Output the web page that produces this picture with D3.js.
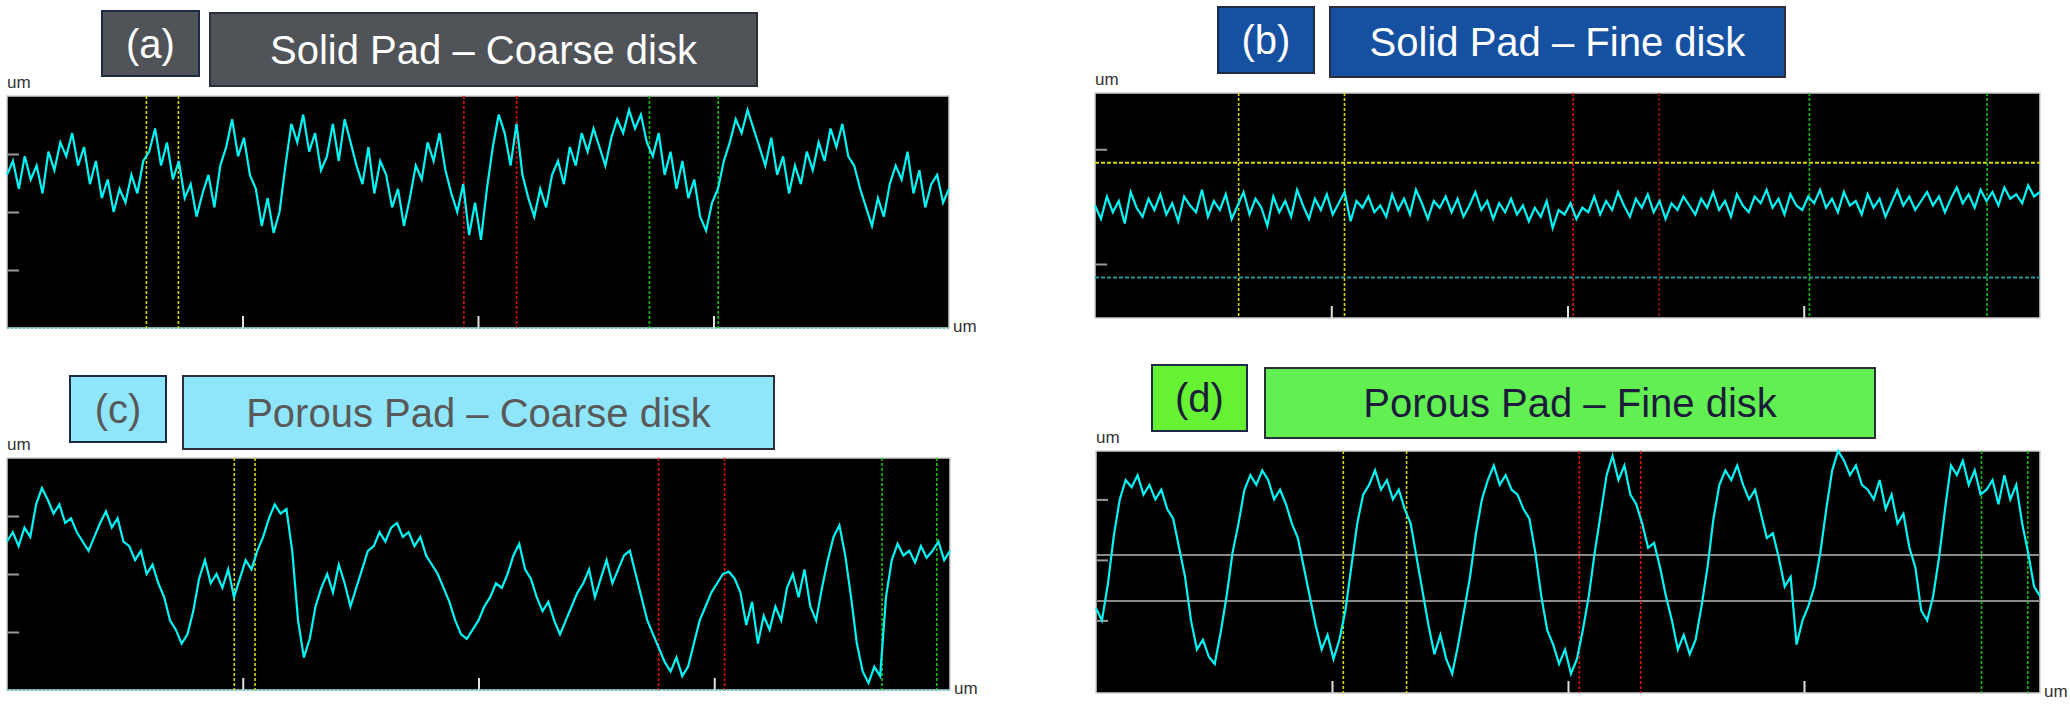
<!DOCTYPE html>
<html><head><meta charset="utf-8">
<script src="https://cdn.jsdelivr.net/npm/d3@7"></script>
<style>body{margin:0;background:#fff}svg{display:block}</style>
</head><body>
<svg id="c" width="2070" height="706"></svg>
<script>
// ---- data (heights in % of plot range, x in % of profile length) ----
const labels = ["(a)","(b)","(c)","(d)"];
const titles = ["Solid Pad \u2013 Coarse disk","Solid Pad \u2013 Fine disk","Porous Pad \u2013 Coarse disk","Porous Pad \u2013 Fine disk"];
const xTicks = [25,50,75];
const yTicksA = [25,50,75], yTicksB = [24,75], yTicksC = [25,50,75], yTicksD = [30,55,80];
const markersA = [14.8,18.2,48.5,54.1,68.2,75.5];
const markersB = [15.2,26.4,50.6,59.7,75.6,94.4];
const markersC = [24.1,26.3,69.1,76.1,92.8,98.6];
const markersD = [26.2,32.9,51.2,57.7,93.8,98.7];
const hLinesB = [69,18];
const hLinesD = [57,38];
const profileA = [66,72,60,74,64,70,58,76,68,80, 74,84,70,78,62,72,56,64,50,60, 54,66,58,72,76,86,70,80,64,72,
 56,62,48,58,66,52,70,78,90,74, 82,66,60,44,56,41,50,70,88,80, 92,76,84,68,74,88,72,90,80,70,
 62,78,58,72,66,52,60,44,56,70, 64,80,72,84,68,58,50,62,40,54, 38,60,78,92,84,70,88,66,56,48,
 60,52,66,72,62,78,70,84,76,86, 78,70,82,90,84,94,86,92,80,74, 84,66,76,60,72,56,64,48,42,54,
 60,72,80,90,84,94,86,78,70,82, 66,74,58,70,62,76,68,80,72,86, 78,88,74,70,60,52,44,56,48,62,
 70,64,76,58,68,52,62,66,54,60];
const profileB = [50,44,54,47,52,42,56,49,45,53, 48,55,46,51,43,54,50,47,57,45, 52,48,55,44,50,56,46,53,49,41,
 54,47,52,45,57,50,44,53,48,55, 46,51,56,43,52,49,54,47,50,45, 55,48,53,46,57,51,44,52,49,54,
 47,53,45,50,56,48,52,44,51,47, 53,46,50,43,49,45,52,40,48,46, 51,44,49,47,54,46,52,48,56,50,
 45,53,49,55,47,52,44,51,48,54, 50,46,53,49,56,48,52,45,55,50, 47,54,51,57,49,53,46,55,50,48,
 54,51,57,49,53,47,56,50,52,46, 55,49,53,45,51,57,50,54,48,52, 56,50,54,47,53,58,51,55,49,57,
 52,56,50,58,53,55,51,59,54,56];
const profileC = [64,68,62,70,66,80,87,82,76,80, 72,74,68,64,60,66,72,77,70,74, 64,62,56,60,50,54,46,40,30,26,
 20,24,34,48,56,46,50,44,52,40, 48,56,52,60,66,74,80,76,78,60, 30,14,22,36,44,50,42,54,46,36,
 44,52,60,62,68,64,70,72,66,68, 62,66,58,54,50,44,38,30,24,22, 26,30,36,40,46,44,50,58,63,52,
 48,40,34,38,30,24,30,36,42,46, 52,40,48,56,46,52,58,60,50,40, 30,24,18,12,8,14,6,10,20,30,
 36,42,46,50,51,48,42,28,38,20, 32,26,36,30,44,50,40,52,36,30, 44,56,66,71,58,40,20,8,3,10,
 6,40,56,63,58,60,55,62,57,60,64,56,60];
const profileD = [35,30,45,65,80,88,85,90,82,86, 80,84,76,72,60,48,30,18,22,15, 12,25,40,58,70,84,90,86,92,88,
 80,84,78,70,64,52,40,28,18,24, 14,22,34,52,70,82,86,92,84,88, 80,84,76,70,56,42,28,16,24,14,
 8,20,34,48,66,80,88,94,86,90, 84,82,76,72,58,40,26,20,12,18, 8,14,26,40,58,74,90,98,88,94,
 82,78,70,60,62,52,40,30,18,24, 16,22,36,52,72,86,92,88,94,86, 80,84,74,64,66,56,44,48,20,30,
 36,44,58,76,92,100,96,90,94,86, 84,80,88,76,82,70,74,60,52,34, 30,40,56,76,94,90,96,86,92,82,
 84,88,78,90,80,86,70,58,44,40];

// ---- layout ----
const panels = [
 {lab:[102,11,97,65], tit:[210,13,547,73], box:[7,96,942,232], data:profileA, mk:markersA, yt:yTicksA, h:[],
  fill:"#505358", lfill:"#505358", txt:"#ffffff", bottomUm:true},
 {lab:[1218,7,96,66], tit:[1330,7,455,70], box:[1095,93,945,225], data:profileB, mk:markersB, yt:yTicksB, h:hLinesB,
  fill:"#1651a1", lfill:"#1651a1", txt:"#ffffff", bottomUm:false},
 {lab:[70,376,96,66], tit:[183,376,591,73], box:[7,458,943,232], data:profileC, mk:markersC, yt:yTicksC, h:[],
  fill:"#8fe6fb", lfill:"#8fe6fb", txt:"#595959", bottomUm:true},
 {lab:[1152,365,95,66], tit:[1265,368,610,70], box:[1096,451,944,242], data:profileD, mk:markersD, yt:yTicksD, h:hLinesD,
  fill:"#62ef52", lfill:"#66f232", txt:"#1c1c3a", bottomUm:true}
];
const markerCols = ["#d8d800","#d8d800","#e01010","#e01010","#10c010","#10c010"];
const svg = d3.select("#c");
const font = "'Liberation Sans', Arial, sans-serif";

panels.forEach((p,i)=>{
  svg.append("rect").attr("x",p.lab[0]).attr("y",p.lab[1]).attr("width",p.lab[2]).attr("height",p.lab[3])
    .attr("fill",p.lfill).attr("stroke","#1d2a44").attr("stroke-width",2);
  svg.append("text").attr("x",p.lab[0]+p.lab[2]/2).attr("y",p.lab[1]+p.lab[3]/2+14).attr("text-anchor","middle")
    .attr("font-family",font).attr("font-size",40).attr("fill",p.txt).text(labels[i]);
  svg.append("rect").attr("x",p.tit[0]).attr("y",p.tit[1]).attr("width",p.tit[2]).attr("height",p.tit[3])
    .attr("fill",p.fill).attr("stroke","#2a2f3a").attr("stroke-width",2);
  svg.append("text").attr("x",p.tit[0]+p.tit[2]/2).attr("y",p.tit[1]+p.tit[3]/2+14).attr("text-anchor","middle")
    .attr("font-family",font).attr("font-size",40).attr("fill",p.txt).text(titles[i]);

  const [bx,by,bw,bh] = p.box;
  const x = d3.scaleLinear().domain([0,100]).range([bx,bx+bw]);
  const y = d3.scaleLinear().domain([0,100]).range([by+bh,by]);
  svg.append("rect").attr("x",bx).attr("y",by).attr("width",bw).attr("height",bh).attr("fill","#000")
    .attr("stroke","#cfcfcf").attr("stroke-width",1.5);
  svg.append("text").attr("x",bx).attr("y",by-8).attr("font-family",font).attr("font-size",17).attr("fill","#333").text("um");
  if(p.bottomUm) svg.append("text").attr("x",bx+bw+4).attr("y",by+bh+4).attr("font-family",font).attr("font-size",17).attr("fill","#333").text("um");

  const ya = d3.axisRight(y).tickValues(p.yt).tickSize(12).tickFormat("");
  const gy = svg.append("g").attr("transform",`translate(${bx},0)`).call(ya);
  gy.select(".domain").remove(); gy.selectAll("line").attr("stroke","#9a9a9a").attr("stroke-width",2);
  const xa = d3.axisTop(x).tickValues(xTicks).tickSize(12).tickFormat("");
  const gx = svg.append("g").attr("transform",`translate(0,${by+bh})`).call(xa);
  gx.select(".domain").remove(); gx.selectAll("line").attr("stroke","#e0e0e0").attr("stroke-width",2);

  p.h.forEach((v,k)=>{
    const col = i===1 ? (k===0?"#d8d800":"#1c9a9a") : "#8a8a8a";
    svg.append("line").attr("x1",bx).attr("x2",bx+bw).attr("y1",y(v)).attr("y2",y(v))
      .attr("stroke",col).attr("stroke-width",2).attr("stroke-dasharray", i===1?"4,2":null);
  });
  p.mk.forEach((v,k)=>{
    svg.append("line").attr("x1",x(v)).attr("x2",x(v)).attr("y1",by).attr("y2",by+bh)
      .attr("stroke",(i===1&&k===3)?"#901010":markerCols[k]).attr("stroke-width",1.6).attr("stroke-dasharray","3,2");
  });
  const n = p.data.length;
  const line = d3.line().x((d,j)=>x(j*100/(n-1))).y(d=>y(d));
  svg.append("path").datum(p.data).attr("d",line).attr("fill","none").attr("stroke","#00f5f5").attr("stroke-width",2.2);
  if(i===0||i===2) svg.append("line").attr("x1",bx).attr("x2",bx+bw).attr("y1",by+bh).attr("y2",by+bh)
    .attr("stroke","#40c8c8").attr("stroke-width",1.5).attr("stroke-dasharray","2,2");
});
</script>
</body></html>
